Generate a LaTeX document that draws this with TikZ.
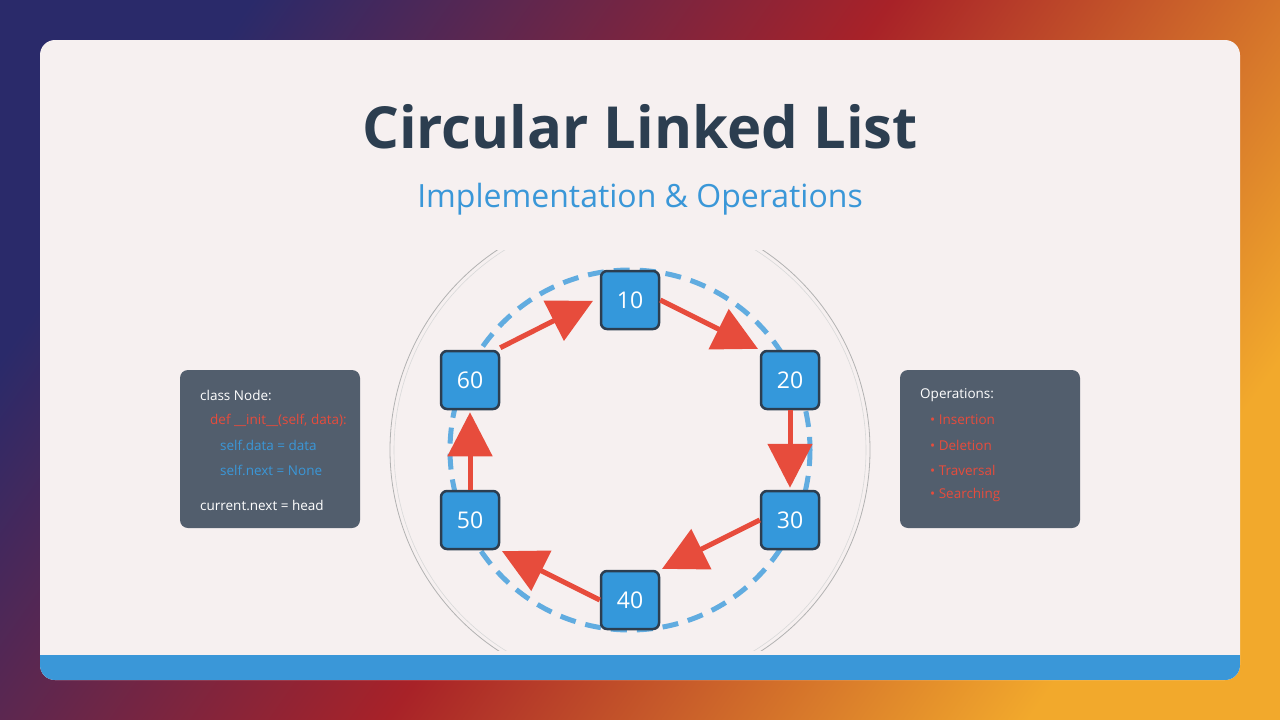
\documentclass[tikz,border=0pt]{standalone}
\usepackage{fontspec}
\setmainfont{Open Sans}
\usetikzlibrary{arrows.meta,calc}
\definecolor{dark}{HTML}{2C3E50}
\definecolor{blu}{HTML}{3A97D8}
\definecolor{nodeblu}{HTML}{3498DB}
\definecolor{rd}{HTML}{E74C3C}
\definecolor{boxc}{HTML}{525E6D}
\definecolor{cardc}{HTML}{F6F0F0}
\definecolor{bgA}{HTML}{2A2A6A}
\definecolor{bgB}{HTML}{A82228}
\definecolor{bgC}{HTML}{F2A92C}
\begin{document}
\begin{tikzpicture}[x=1pt,y=-1pt,
  lnode/.style={draw=dark,line width=2.5pt,fill=nodeblu,rounded corners=6pt,minimum width=58pt,minimum height=58pt,text=white,font=\fontsize{23}{25}\selectfont,inner sep=0pt},
  link/.style={draw=rd,line width=5pt,-{Triangle[length=44pt,width=44pt]},shorten >=2pt},
  codebox/.style={fill=boxc,rounded corners=8pt,minimum width=180pt,minimum height=158pt},
  code/.style={font=\fontsize{13.5}{15}\selectfont,anchor=west,inner sep=0pt}]
\useasboundingbox (0,0) rectangle (1280,720);
\shade[top color=bgA, bottom color=bgC, middle color=bgB,shading angle=55] (0,0) rectangle (1280,720);
\fill[cardc] (40,40) [rounded corners=15pt] rectangle (1240,680);
\begin{scope}
\clip[rounded corners=15pt] (40,40) rectangle (1240,680);
\fill[blu] (40,655) rectangle (1240,680);
\end{scope}
\node[font=\bfseries\fontsize{58}{62}\selectfont,text=dark] (title) at (640,127) {Circular Linked List};
\node[font=\fontsize{32}{36}\selectfont,text=blu] (sub) at (640,199) {Implementation \& Operations};
\begin{scope}
\clip (300,250) rectangle (960,650);
\draw[gray!60,line width=0.8pt] (630,450) circle (240);
\draw[gray!30,line width=0.6pt] (630,450) circle (236);
\end{scope}
\draw[blu!80,line width=5pt,dash pattern=on 16pt off 10pt] (630,450) circle (180);
\node[lnode] (n10) at (630,300) {10};
\node[lnode] (n20) at (790,380) {20};
\node[lnode] (n30) at (790,520) {30};
\node[lnode] (n40) at (630,600) {40};
\node[lnode] (n50) at (470,520) {50};
\node[lnode] (n60) at (470,380) {60};
\draw[link] ($(n60.north east)+(0,-2)$) -- ($(n10.west)+(-5,0)$);
\draw[link] (n10.east) -- (n20.north west);
\draw[link] (n20.south) -- (n30.north);
\draw[link] (n30.west) -- (n40.north east);
\draw[link] (n40.west) -- (n50.south east);
\draw[link] (n50.north) -- (n60.south);
\node[codebox] (lbox) at (270,449) {};
\node[code,text=white] (c1) at (200,395) {class Node:};
\node[code,text=rd] (c2) at (210,420) {def \_\_init\_\_(self, data):};
\node[code,text=blu] (c3) at (220,445) {self.data = data};
\node[code,text=blu] (c4) at (220,470) {self.next = None};
\node[code,text=white] (c5) at (200,505) {current.next = head};
\node[codebox] (rbox) at (990,449) {};
\node[code,text=white] (o0) at (920,395) {Operations:};
\node[code,text=rd] (o1) at (930,420) {• Insertion};
\node[code,text=rd] (o2) at (930,445) {• Deletion};
\node[code,text=rd] (o3) at (930,470) {• Traversal};
\node[code,text=rd] (o4) at (930,495) {• Searching};
\end{tikzpicture}
\end{document}
